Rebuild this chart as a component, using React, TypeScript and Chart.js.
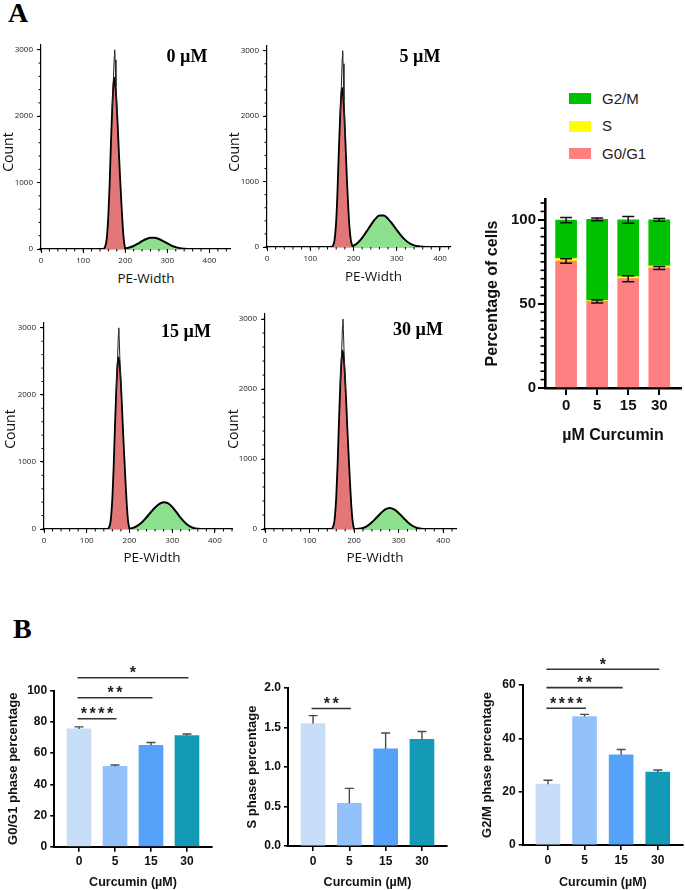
import React, { useEffect, useRef } from "react";
import { Chart, registerables } from "chart.js";
Chart.register(...registerables);

const SANS = "'Liberation Sans', Arial, sans-serif";
const SERIF = "'Liberation Serif', 'Times New Roman', serif";
const OPEN = "'Open Sans', 'DejaVu Sans', sans-serif";
Chart.defaults.font.family = SANS;

// ---------------- DATA ----------------
const DOSES = ["0", "5", "15", "30"];
const HIST_TITLES = ["0 µM", "5 µM", "15 µM", "30 µM"];
const PHASES = ["G2/M", "S", "G0/G1"];

// Panel B / stacked values (mean, SEM)
const G1_MEAN = [75.5, 51.5, 65.0, 71.3];
const G1_SEM = [1.3, 0.9, 1.8, 0.9];
const S_MEAN = [1.55, 0.54, 1.23, 1.35];
const S_SEM = [0.1, 0.19, 0.2, 0.1];
const G2_MEAN = [22.8, 48.2, 33.8, 27.3];
const G2_SEM = [1.5, 0.8, 2.0, 0.8];

// Tick labels
const HIST_X_TICKS = [0, 100, 200, 300, 400];
const HIST_Y_TICKS = [0, 1000, 2000, 3000];
const PCT_TICKS = [0, 50, 100];
const G1_TICKS = [0, 20, 40, 60, 80, 100];
const S_TICKS = [0, 0.5, 1.0, 1.5, 2.0];
const S_TICK_LABELS = ["0.0", "0.5", "1.0", "1.5", "2.0"];
const G2_TICKS = [0, 20, 40, 60];

// Significance brackets
const G1_SIG = [
  { from: 0, to: 1, y: 82, text: "****" },
  { from: 0, to: 2, y: 95.5, text: "**" },
  { from: 0, to: 3, y: 108.3, text: "*" },
];
const S_SIG = [{ from: 0, to: 1, y: 1.74, text: "**" }];
const G2_SIG = [
  { from: 0, to: 1, y: 51.3, text: "****" },
  { from: 0, to: 2, y: 59, text: "**" },
  { from: 0, to: 3, y: 65.9, text: "*" },
];

// Histograms (PE-Width vs Count)
const G1_X = [148, 152, 156, 160, 163, 166, 169, 172, 174, 176, 179, 182, 185, 188, 191, 194, 197, 200];
const H0_G1 = [0, 30, 150, 520, 980, 1580, 2100, 2470, 2580, 2500, 2250, 1880, 1450, 1050, 680, 350, 120, 0];
const H5_G1 = [0, 15, 100, 400, 850, 1450, 1980, 2340, 2430, 2330, 1980, 1500, 1000, 600, 280, 100, 25, 0];
const H15_G1 = [0, 20, 120, 460, 920, 1520, 2050, 2440, 2560, 2510, 2280, 1900, 1460, 1060, 680, 340, 110, 0];
const H30_G1 = [0, 20, 120, 460, 920, 1520, 2050, 2430, 2550, 2490, 2250, 1870, 1430, 1030, 650, 320, 100, 0];

const RAW_X = [169, 172, 174, 175, 176, 178, 181];
const H0_RAW = [2100, 2570, 2900, 3000, 2850, 2450, 2000];
const H5_RAW = [1980, 2460, 2900, 3000, 2800, 2250, 1650];
const H15_RAW = [2050, 2520, 2900, 3000, 2850, 2450, 2020];
const H30_RAW = [2050, 2510, 2900, 3000, 2850, 2430, 1990];

const G2_X = [190, 200, 210, 220, 230, 240, 250, 260, 270, 280, 290, 300, 310, 320, 330, 340, 350, 360, 370];
const H0_G2 = [0, 8, 22, 45, 80, 118, 150, 168, 168, 150, 120, 85, 52, 28, 13, 5, 0, 0, 0];
const H5_G2 = [0, 20, 65, 140, 235, 335, 425, 480, 480, 430, 350, 260, 175, 105, 55, 25, 10, 3, 0];
const H15_G2 = [0, 5, 20, 55, 105, 175, 250, 320, 375, 400, 385, 330, 250, 165, 95, 45, 15, 3, 0];
const H30_G2 = [0, 0, 3, 15, 45, 95, 160, 225, 280, 300, 280, 230, 165, 100, 50, 18, 5, 0, 0];

const HIST_G1 = [H0_G1, H5_G1, H15_G1, H30_G1];
const HIST_RAW = [H0_RAW, H5_RAW, H15_RAW, H30_RAW];
const HIST_G2 = [H0_G2, H5_G2, H15_G2, H30_G2];

// ---------------- STYLE / LAYOUT ----------------
const RED_FILL = "#E27777";
const GREEN_FILL = "#8DE08D";
const BAR_COLORS = ["#C8DEF8", "#93C1F9", "#56A1FA", "#139AB6"];
const PHASE_COLORS: Record<string, string> = { "G2/M": "#00C000", S: "#FFFF00", "G0/G1": "#FF8080" };

type Frame = { L: number; T: number; R: number; B: number; yw: number; xh: number; pt: number; pr: number };

function boxOf(f: Frame) {
  const x = Math.floor(f.L - f.yw);
  const y = Math.floor(f.T - f.pt);
  const w = Math.ceil(f.R + f.pr) - x;
  const h = Math.ceil(f.B + f.xh) - y;
  return { x, y, w, h, yw: f.L - x, pt: f.T - y, pr: x + w - f.R, xh: y + h - f.B };
}

function makeAnnot(spec: any) {
  return {
    id: "annot",
    afterDatasetsDraw(chart: any) {
      const ctx = chart.ctx;
      const xs = chart.scales.x;
      const ys = chart.scales.y;
      ctx.save();
      for (const m of spec.minor || []) {
        const s = chart.scales[m.axis];
        ctx.strokeStyle = m.color || "#000";
        ctx.lineWidth = m.width || 1;
        for (const v of m.values) {
          const p = s.getPixelForValue(v);
          ctx.beginPath();
          if (m.axis === "x") {
            ctx.moveTo(p, s.top);
            ctx.lineTo(p, s.top + m.len);
          } else {
            ctx.moveTo(s.right, p);
            ctx.lineTo(s.right - m.len, p);
          }
          ctx.stroke();
        }
      }
      for (const e of spec.errors || []) {
        const meta = chart.getDatasetMeta(e.dataset);
        ctx.strokeStyle = e.color;
        ctx.lineWidth = e.width;
        meta.data.forEach((bar: any, i: number) => {
          const x = bar.x;
          const yTop = ys.getPixelForValue(e.tops[i] + e.errs[i]);
          const yBot = e.both ? ys.getPixelForValue(e.tops[i] - e.errs[i]) : ys.getPixelForValue(e.tops[i]);
          ctx.beginPath();
          ctx.moveTo(x, yTop);
          ctx.lineTo(x, yBot);
          ctx.moveTo(x - e.cap, yTop);
          ctx.lineTo(x + e.cap, yTop);
          if (e.both) {
            ctx.moveTo(x - e.cap, yBot);
            ctx.lineTo(x + e.cap, yBot);
          }
          ctx.stroke();
        });
      }
      for (const s of spec.sig || []) {
        const x1 = xs.getPixelForValue(s.from) - 1.5;
        const x2 = xs.getPixelForValue(s.to) + 1.5;
        const y = ys.getPixelForValue(s.y);
        ctx.strokeStyle = "#333";
        ctx.lineWidth = 1.6;
        ctx.beginPath();
        ctx.moveTo(x1, y);
        ctx.lineTo(x2, y);
        ctx.stroke();
        ctx.fillStyle = "#222";
        ctx.font = `bold 16px ${SANS}`;
        (ctx as any).letterSpacing = "2.5px";
        ctx.textAlign = "center";
        ctx.textBaseline = "alphabetic";
        ctx.fillText(s.text, (x1 + x2) / 2 + 1.2, y + 0.5);
      }
      ctx.restore();
    },
  };
}

function baseOptions(b: any) {
  return {
    animation: false,
    responsive: false,
    maintainAspectRatio: false,
    devicePixelRatio: 1,
    events: [],
    layout: { padding: { left: 0, top: b.pt, right: b.pr, bottom: 0 } },
    plugins: { legend: { display: false }, tooltip: { enabled: false }, title: { display: false } },
  };
}

// ---------------- Histogram config ----------------
const H_FRAMES = [
  { L: 41, R: 230.5, T: 44.5, B: 249, xmax: 450 },
  { L: 267, R: 450.8, T: 45, B: 247, xmax: 425 },
  { L: 44, R: 232, T: 322, B: 529, xmax: 440 },
  { L: 265, R: 456.5, T: 313.7, B: 529, xmax: 430 },
];
const H_YMAX = 3075;

function histConfig(i: number) {
  const f = H_FRAMES[i];
  const b = boxOf({ L: f.L, R: f.R, T: f.T, B: f.B, yw: 38, xh: 20, pt: 8, pr: 8 });
  const minorX: number[] = [];
  for (let v = 0; v <= f.xmax; v += 20) minorX.push(v);
  const minorY: number[] = [];
  for (let v = 0; v <= 3000; v += 200) minorY.push(v);
  const tickFont = { family: OPEN, size: 8 };
  const line = (xs: number[], ys: number[]) => xs.map((x, k) => ({ x, y: ys[k] }));
  const config: any = {
    type: "line",
    data: {
      datasets: [
        {
          label: "G2/M",
          data: line(G2_X, HIST_G2[i]),
          fill: "origin",
          backgroundColor: GREEN_FILL,
          borderColor: "#000",
          borderWidth: 2,
          pointRadius: 0,
          cubicInterpolationMode: "monotone",
          order: 3,
        },
        {
          label: "G0/G1",
          data: line(G1_X, HIST_G1[i]),
          fill: "origin",
          backgroundColor: RED_FILL,
          borderColor: "#000",
          borderWidth: 1.8,
          pointRadius: 0,
          cubicInterpolationMode: "monotone",
          order: 2,
        },
        {
          label: "raw",
          data: line(RAW_X, HIST_RAW[i]),
          fill: false,
          borderColor: "#222",
          borderWidth: 1,
          pointRadius: 0,
          tension: 0,
          order: 1,
        },
      ],
    },
    options: {
      ...baseOptions(b),
      scales: {
        x: {
          type: "linear",
          bounds: "data",
          min: 0,
          max: f.xmax,
          afterBuildTicks: (s: any) => {
            s.ticks = HIST_X_TICKS.map((v) => ({ value: v }));
          },
          afterFit: (s: any) => {
            s.height = b.xh;
          },
          ticks: { callback: (_v: any, k: number) => String(HIST_X_TICKS[k]), font: tickFont, color: "#222", padding: 3, maxRotation: 0 },
          grid: { display: true, drawOnChartArea: false, drawTicks: true, tickLength: 4, color: "#000", lineWidth: 1 },
          border: { display: true, color: "#000", width: 1.2 },
        },
        y: {
          type: "linear",
          bounds: "data",
          min: 0,
          max: H_YMAX,
          afterBuildTicks: (s: any) => {
            s.ticks = HIST_Y_TICKS.map((v) => ({ value: v }));
          },
          afterFit: (s: any) => {
            s.width = b.yw;
          },
          ticks: { callback: (_v: any, k: number) => String(HIST_Y_TICKS[k]), font: tickFont, color: "#222", padding: 4 },
          grid: { display: true, drawOnChartArea: false, drawTicks: true, tickLength: 4, color: "#000", lineWidth: 1 },
          border: { display: true, color: "#000", width: 1.2 },
        },
      },
    },
    plugins: [
      makeAnnot({
        minor: [
          { axis: "x", values: minorX, len: 2.5, width: 1 },
          { axis: "y", values: minorY, len: 2.5, width: 1 },
        ],
      }),
    ],
  };
  return { box: b, config };
}

// ---------------- Stacked percentage chart ----------------
function stackedConfig() {
  const L = 545, R = 681, T = 198, B = 388;
  const titleFont = { family: SANS, size: 16, weight: "bold" as const };
  const tickFont = { family: SANS, size: 15, weight: "bold" as const };
  const lh = 16 * 1.2;
  const b = boxOf({ L, R, T, B, yw: L - (493.5 - lh / 2), xh: 435 + lh / 2 - B, pt: 10, pr: 3 });
  const minorY: number[] = [];
  for (let v = 0; v <= 110; v += 5) minorY.push(v);
  const stackTop = G1_MEAN.map((v, k) => v + S_MEAN[k] + G2_MEAN[k]);
  const mk = (label: string, vals: number[]) => ({
    label,
    data: vals.map((v, k) => ({ x: k, y: v })),
    backgroundColor: PHASE_COLORS[label],
    borderWidth: 0,
    barThickness: 21,
  });
  const config: any = {
    type: "bar",
    data: { datasets: [mk("G0/G1", G1_MEAN), mk("S", S_MEAN), mk("G2/M", G2_MEAN)] },
    options: {
      ...baseOptions(b),
      scales: {
        x: {
          type: "linear",
          stacked: true,
          bounds: "data",
          offset: false,
          min: -0.68,
          max: 3.7,
          afterBuildTicks: (s: any) => {
            s.ticks = DOSES.map((_d, k) => ({ value: k }));
          },
          afterFit: (s: any) => {
            s.height = b.xh;
          },
          ticks: { callback: (_v: any, k: number) => DOSES[k], font: tickFont, color: "#111", padding: 2, maxRotation: 0, autoSkip: false },
          grid: { display: true, drawOnChartArea: false, drawTicks: true, tickLength: 7, color: "#000", lineWidth: 2, offset: false },
          border: { display: true, color: "#000", width: 2.6 },
          title: { display: true, text: "µM Curcumin", font: titleFont, color: "#111", padding: 0 },
        },
        y: {
          type: "linear",
          stacked: true,
          bounds: "data",
          min: 0,
          max: 112.4,
          afterBuildTicks: (s: any) => {
            s.ticks = PCT_TICKS.map((v) => ({ value: v }));
          },
          afterFit: (s: any) => {
            s.width = b.yw;
          },
          ticks: { callback: (_v: any, k: number) => String(PCT_TICKS[k]), font: tickFont, color: "#111", padding: 2 },
          grid: { display: true, drawOnChartArea: false, drawTicks: true, tickLength: 7, color: "#000", lineWidth: 2 },
          border: { display: true, color: "#000", width: 2.6 },
          title: { display: true, text: "Percentage of cells", font: titleFont, color: "#111", padding: 0 },
        },
      },
    },
    plugins: [
      makeAnnot({
        minor: [{ axis: "y", values: minorY, len: 4.5, width: 1.6 }],
        errors: [
          { dataset: 0, tops: G1_MEAN, errs: G1_SEM, both: true, color: "#111", width: 1.5, cap: 6 },
          { dataset: 2, tops: stackTop, errs: G2_SEM, both: true, color: "#111", width: 1.5, cap: 6 },
        ],
      }),
    ],
  };
  return { box: b, config };
}

// ---------------- Panel B phase charts ----------------
function phaseConfig(opts: {
  L: number; R: number; T: number; B: number; yTitleX: number; xTitleY: number; pt: number; pr: number;
  means: number[]; sems: number[]; ticks: number[]; tickLabels: string[]; ymax: number; sig: any[]; yTitle: string;
}) {
  const { L, R, T, B } = opts;
  const yTitleFont = { family: SANS, size: 13, weight: "bold" as const };
  const xTitleFont = { family: SANS, size: 12.5, weight: "bold" as const };
  const tickFont = { family: SANS, size: 12, weight: "bold" as const };
  const b = boxOf({ L, R, T, B, yw: L - (opts.yTitleX - 13 * 1.2 / 2), xh: opts.xTitleY + 12.5 * 1.2 / 2 - B, pt: opts.pt, pr: opts.pr });
  const config: any = {
    type: "bar",
    data: {
      datasets: [
        {
          label: opts.yTitle,
          data: opts.means.map((v, k) => ({ x: k, y: v })),
          backgroundColor: BAR_COLORS,
          borderWidth: 0,
          barThickness: 24,
        },
      ],
    },
    options: {
      ...baseOptions(b),
      scales: {
        x: {
          type: "linear",
          bounds: "data",
          offset: false,
          min: -0.69,
          max: 3.69,
          afterBuildTicks: (s: any) => {
            s.ticks = DOSES.map((_d, k) => ({ value: k }));
          },
          afterFit: (s: any) => {
            s.height = b.xh;
          },
          ticks: { callback: (_v: any, k: number) => DOSES[k], font: tickFont, color: "#111", padding: 3, maxRotation: 0, autoSkip: false },
          grid: { display: true, drawOnChartArea: false, drawTicks: true, tickLength: 5, color: "#000", lineWidth: 1.6, offset: false },
          border: { display: true, color: "#000", width: 2 },
          title: { display: true, text: "Curcumin (µM)", font: xTitleFont, color: "#111", padding: 0 },
        },
        y: {
          type: "linear",
          bounds: "data",
          min: 0,
          max: opts.ymax,
          afterBuildTicks: (s: any) => {
            s.ticks = opts.ticks.map((v) => ({ value: v }));
          },
          afterFit: (s: any) => {
            s.width = b.yw;
          },
          ticks: { callback: (_v: any, k: number) => opts.tickLabels[k], font: tickFont, color: "#111", padding: 3 },
          grid: { display: true, drawOnChartArea: false, drawTicks: true, tickLength: 4, color: "#000", lineWidth: 1.6 },
          border: { display: true, color: "#000", width: 2 },
          title: { display: true, text: opts.yTitle, font: yTitleFont, color: "#111", padding: 0 },
        },
      },
    },
    plugins: [
      makeAnnot({
        errors: [{ dataset: 0, tops: opts.means, errs: opts.sems, both: false, color: "#4a4a4a", width: 1.4, cap: 4.5 }],
        sig: opts.sig,
      }),
    ],
  };
  return { box: b, config };
}

// ---------------- Components ----------------
function ChartBox({ spec }: { spec: { box: any; config: any } }) {
  const ref = useRef<HTMLCanvasElement | null>(null);
  useEffect(() => {
    const chart = new Chart(ref.current as HTMLCanvasElement, spec.config);
    return () => chart.destroy();
  }, []);
  const b = spec.box;
  return (
    <canvas
      ref={ref}
      width={b.w}
      height={b.h}
      style={{ position: "absolute", left: b.x, top: b.y, width: b.w, height: b.h, display: "block" }}
    />
  );
}

function Txt({ x, y, rotate, style, children }: any) {
  return (
    <div
      style={{
        position: "absolute",
        left: x,
        top: y,
        transform: `translate(-50%, -50%)${rotate ? " rotate(-90deg)" : ""}`,
        whiteSpace: "nowrap",
        lineHeight: 1,
        ...style,
      }}
    >
      {children}
    </div>
  );
}

const HIST_LABEL_POS = [
  { x: 187, y: 56 },
  { x: 420, y: 56 },
  { x: 186, y: 331 },
  { x: 418, y: 329 },
];
const COUNT_POS = [
  { x: 8, y: 152 },
  { x: 234, y: 152 },
  { x: 9.5, y: 429 },
  { x: 233, y: 429 },
];
const PEW_POS = [
  { x: 146, y: 279 },
  { x: 373.5, y: 277 },
  { x: 152, y: 558 },
  { x: 375, y: 558 },
];
const LEGEND_Y = [98.7, 126.3, 153.5];

export default function App() {
  const hists = [0, 1, 2, 3].map((i) => histConfig(i));
  const stacked = stackedConfig();
  const b1 = phaseConfig({
    L: 54.2, R: 211.8, T: 690.7, B: 846.7, yTitleX: 14, xTitleY: 882, pt: 36, pr: 4,
    means: G1_MEAN, sems: G1_SEM, ticks: G1_TICKS, tickLabels: G1_TICKS.map(String), ymax: 100, sig: G1_SIG,
    yTitle: "G0/G1 phase percentage",
  });
  const b2 = phaseConfig({
    L: 288, R: 447, T: 688, B: 846, yTitleX: 253.3, xTitleY: 881.7, pt: 12, pr: 4,
    means: S_MEAN, sems: S_SEM, ticks: S_TICKS, tickLabels: S_TICK_LABELS, ymax: 2.0, sig: S_SIG,
    yTitle: "S phase percentage",
  });
  const b3 = phaseConfig({
    L: 522.7, R: 683, T: 685, B: 845, yTitleX: 488.3, xTitleY: 881.7, pt: 30, pr: 1.5,
    means: G2_MEAN, sems: G2_SEM, ticks: G2_TICKS, tickLabels: G2_TICKS.map(String), ymax: 60, sig: G2_SIG,
    yTitle: "G2/M phase percentage",
  });

  return (
    <div
      style={{
        position: "absolute",
        left: 0,
        top: 0,
        width: 685,
        height: 890,
        overflow: "hidden",
        background: "#fff",
      }}
    >
      {hists.map((h, i) => (
        <ChartBox key={"h" + i} spec={h} />
      ))}
      <ChartBox spec={stacked} />
      <ChartBox spec={b1} />
      <ChartBox spec={b2} />
      <ChartBox spec={b3} />

      {/* panel letters */}
      <div style={{ position: "absolute", left: 8, top: -1.5, fontFamily: SERIF, fontWeight: "bold", fontSize: 28, lineHeight: "28px" }}>A</div>
      <div style={{ position: "absolute", left: 13, top: 615, fontFamily: SERIF, fontWeight: "bold", fontSize: 28, lineHeight: "28px" }}>B</div>

      {/* histogram texts */}
      {HIST_TITLES.map((t, i) => (
        <Txt key={"t" + i} x={HIST_LABEL_POS[i].x} y={HIST_LABEL_POS[i].y} style={{ fontFamily: SERIF, fontWeight: "bold", fontSize: 18, color: "#000" }}>
          {t}
        </Txt>
      ))}
      {COUNT_POS.map((p, i) => (
        <Txt key={"c" + i} x={p.x} y={p.y} rotate style={{ fontFamily: OPEN, fontSize: 14, color: "#111" }}>
          Count
        </Txt>
      ))}
      {PEW_POS.map((p, i) => (
        <Txt key={"p" + i} x={p.x} y={p.y} style={{ fontFamily: OPEN, fontSize: 13.5, color: "#111" }}>
          PE-Width
        </Txt>
      ))}

      {/* legend of stacked chart */}
      {PHASES.map((ph, i) => (
        <React.Fragment key={"l" + i}>
          <div
            style={{
              position: "absolute",
              left: 569,
              top: LEGEND_Y[i] - 5.5,
              width: 22,
              height: 11,
              background: PHASE_COLORS[ph],
            }}
          />
          <div
            style={{
              position: "absolute",
              left: 602,
              top: LEGEND_Y[i] - 8,
              fontFamily: SANS,
              fontSize: 15,
              lineHeight: "16px",
              color: "#222",
              whiteSpace: "nowrap",
            }}
          >
            {ph}
          </div>
        </React.Fragment>
      ))}
    </div>
  );
}
